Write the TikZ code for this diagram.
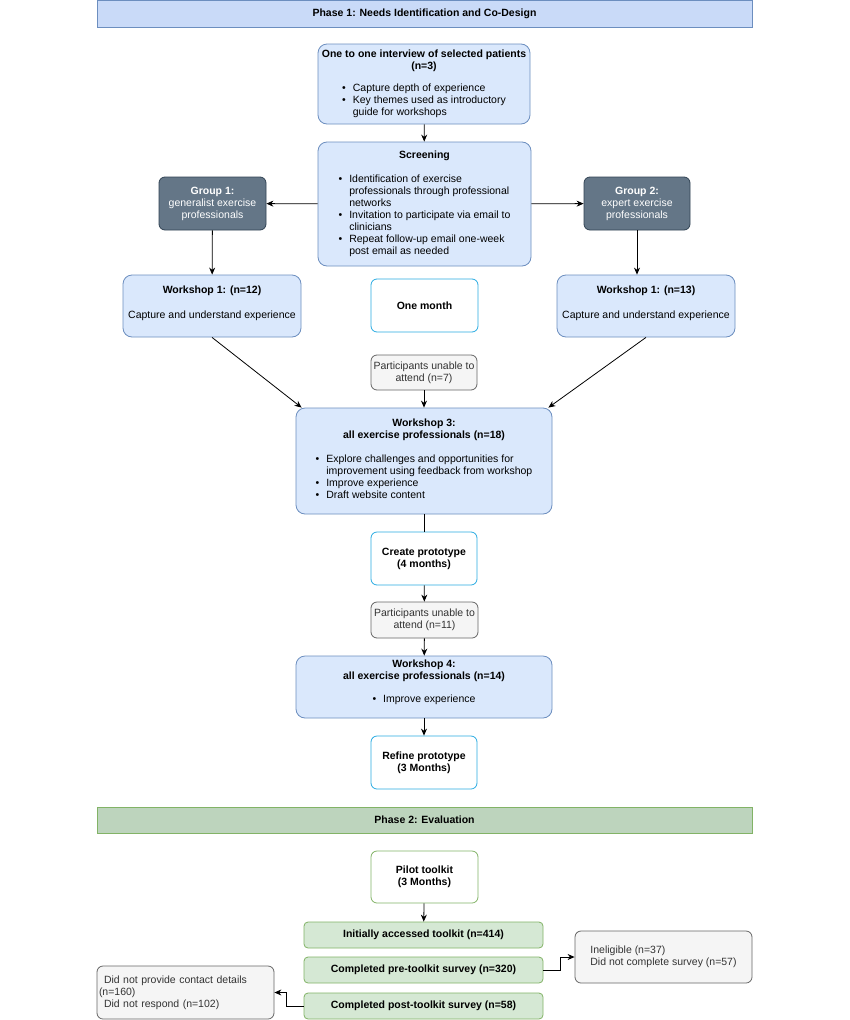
\documentclass[tikz,border=0pt]{standalone}
\usepackage{fontspec}
\setmainfont{Liberation Sans}
\usetikzlibrary{arrows.meta}
\definecolor{barblue}{HTML}{C9DAF8}
\definecolor{boxblue}{HTML}{DAE8FC}
\definecolor{lineblue}{HTML}{6C8EBF}
\definecolor{darkfill}{HTML}{647687}
\definecolor{darkline}{HTML}{314354}
\definecolor{cyanline}{HTML}{29ABE2}
\definecolor{greyfill}{HTML}{F5F5F5}
\definecolor{greyline}{HTML}{666666}
\definecolor{greytext}{HTML}{333333}
\definecolor{bargreen}{HTML}{BDD4BD}
\definecolor{boxgreen}{HTML}{D5E8D4}
\definecolor{linegreen}{HTML}{82B366}
\newcommand{\blist}[1]{\begin{tabular}[t]{@{}l@{\hspace{7pt}}l@{}}#1\end{tabular}}

\begin{document}
\begin{tikzpicture}[x=1pt,y=-1pt,
		every node/.style={font=\fontsize{10.5}{12}\selectfont, align=center, inner sep=2pt},
		box/.style={draw, rounded corners=9pt, line width=0.8pt},
		bluebox/.style={box, fill=boxblue, draw=lineblue},
		darkbox/.style={box, rounded corners=6pt, fill=darkfill, draw=darkline, text=white},
		timebox/.style={box, rounded corners=6pt, fill=white, draw=cyanline},
		greybox/.style={box, rounded corners=6pt, fill=greyfill, draw=greyline, text=greytext},
		greenbox/.style={box, rounded corners=4pt, fill=boxgreen, draw=linegreen},
		phasebar/.style={draw, line width=0.8pt, minimum width=655, minimum height=27},
		arr/.style={-{Stealth[length=7pt,width=6pt]}, line width=0.8pt}]
	\useasboundingbox[fill=white] (0,0) rectangle (850,1020);
	\node[phasebar, fill=barblue, draw=lineblue] (phase1) at (424.5,13.5) {\textbf{Phase 1: Needs Identification and Co-Design}};
	\node[bluebox, minimum width=212, minimum height=80] (interview) at (424,84) {\textbf{One to one interview of selected patients}\\\textbf{(n=3)}\\[10pt]\blist{\textbullet & Capture depth of experience\\ \textbullet & Key themes used as introductory\\ & guide for workshops}};
	\node[bluebox, minimum width=213, minimum height=124] (screening) at (424.5,204) {\textbf{Screening}\\[12pt]\blist{\textbullet & Identification of exercise\\ & professionals through professional\\ & networks\\ \textbullet & Invitation to participate via email to\\ & clinicians\\ \textbullet & Repeat follow-up email one-week\\ & post email as needed}};
	\node[darkbox, minimum width=107, minimum height=53] (group1) at (212.5,203.5) {\textbf{Group 1:}\\generalist exercise\\professionals};
	\node[darkbox, minimum width=106, minimum height=53] (group2) at (637,203.5) {\textbf{Group 2:}\\expert exercise\\professionals};
	\node[bluebox, minimum width=178, minimum height=62] (ws1a) at (212,306) {\textbf{Workshop 1: (n=12)}\\[13pt]Capture and understand experience\\[-4pt]\mbox{}};
	\node[timebox, minimum width=107, minimum height=53] (month) at (424.5,305.5) {\textbf{One month}};
	\node[bluebox, minimum width=178, minimum height=62] (ws1b) at (646,306) {\textbf{Workshop 1: (n=13)}\\[13pt]Capture and understand experience\\[-4pt]\mbox{}};
	\node[greybox, minimum width=106, minimum height=35] (unable7) at (424,372.5) {Participants unable to\\attend (n=7)};
	\node[bluebox, minimum width=256, minimum height=106] (ws3) at (424,461) {\textbf{Workshop 3:}\\\textbf{all exercise professionals (n=18)}\\[12pt]\blist{\textbullet & Explore challenges and opportunities for\\ & improvement using feedback from workshop\\ \textbullet & Improve experience\\ \textbullet & Draft website content}\\[0pt]\mbox{}};
	\node[timebox, minimum width=106, minimum height=53] (create) at (424,558.5) {\textbf{Create prototype}\\\textbf{(4 months)}};
	\node[greybox, minimum width=107, minimum height=36] (unable11) at (424.5,620) {Participants unable to\\attend (n=11)};
	\node[bluebox, minimum width=256, minimum height=62] (ws4) at (424,687) {\textbf{Workshop 4:}\\\textbf{all exercise professionals (n=14)}\\[11pt]\blist{\textbullet & Improve experience}\\[0pt]\mbox{}};
	\node[timebox, minimum width=106, minimum height=53] (refine) at (424,762.5) {\textbf{Refine prototype}\\\textbf{(3 Months)}};
	\node[phasebar, fill=bargreen, draw=linegreen, minimum height=26] (phase2) at (424.5,820) {\textbf{Phase 2: Evaluation}};
	\node[timebox, draw=linegreen, minimum width=107, minimum height=52] (pilot) at (424.5,877) {\textbf{Pilot toolkit}\\\textbf{(3 Months)}};
	\node[greenbox, minimum width=239, minimum height=26] (access) at (423.5,935) {\textbf{Initially accessed toolkit (n=414)}};
	\node[greenbox, minimum width=239, minimum height=26] (pre) at (423.5,970) {\textbf{Completed pre-toolkit survey (n=320)}};
	\node[greenbox, minimum width=239, minimum height=26] (post) at (423.5,1006) {\textbf{Completed post-toolkit survey (n=58)}};
	\node[greybox, minimum width=177, minimum height=52, align=left] (inelig) at (663.5,957) {Ineligible (n=37)\\Did not complete survey (n=57)};
	\node[greybox, minimum width=177, minimum height=53, text width=173, inner xsep=2pt, align=left] (nocontact) at (185.5,992.5) {\hspace{5pt}Did not provide contact details\\(n=160)\\\hspace{5pt}Did not respond (n=102)};
	\draw[arr] (interview) -- (screening);
	\draw[arr] (screening) -- (group1);
	\draw[arr] (screening) -- (group2);
	\draw[arr] (group1) -- (ws1a);
	\draw[arr] (group2) -- (group2 |- ws1b.north);
	\draw[arr] (ws1a.south) -- ([xshift=6pt]ws3.north west);
	\draw[arr] (ws1b.south) -- ([xshift=-4pt]ws3.north east);
	\draw[arr] (unable7) -- (ws3);
	\draw[line width=0.8pt] (ws3) -- (create);
	\draw[arr] (create) -- (unable11);
	\draw[arr] (unable11) -- (ws4);
	\draw[arr] (ws4) -- (refine);
	\draw[arr] (pilot) -- (access);
	\draw[arr] (pre.east) -- ++(17,0) |- (inelig.west);
	\draw[arr] (post.west) -- ++(-17,0) |- (nocontact.east);
\end{tikzpicture}
\end{document}
